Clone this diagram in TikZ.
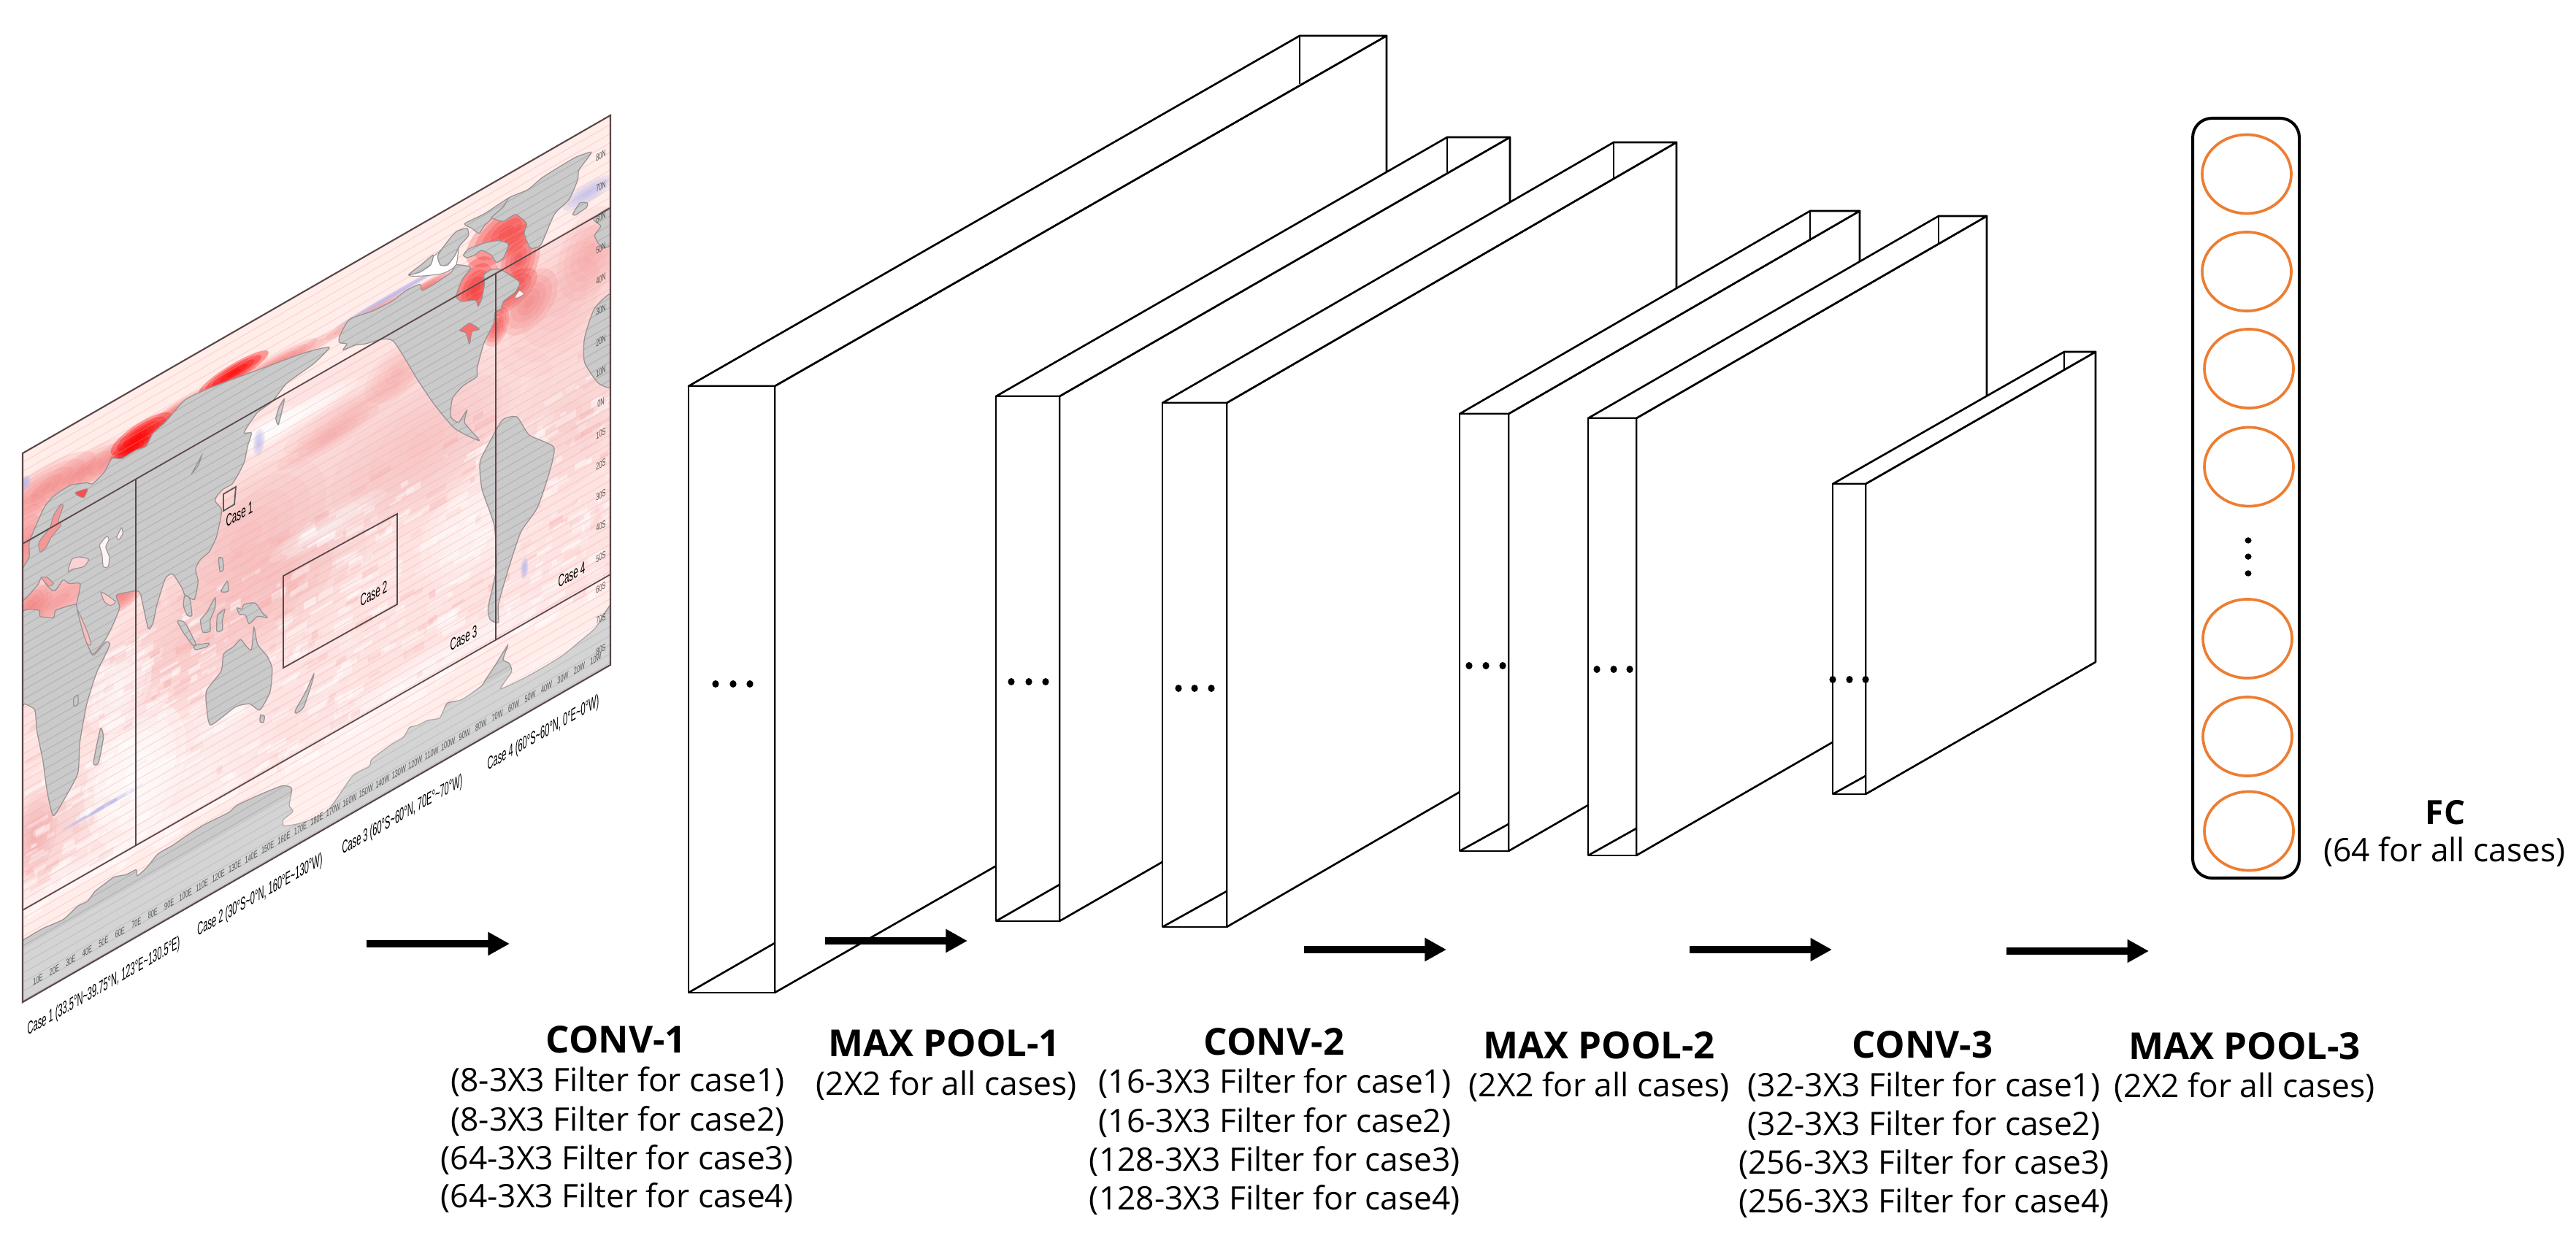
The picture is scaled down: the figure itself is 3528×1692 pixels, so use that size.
\documentclass[tikz,border=0pt]{standalone}
\usepackage{fontspec}
\setmainfont{Open Sans}
\newfontfamily\mapfont{Liberation Sans}
\usetikzlibrary{arrows.meta}
\definecolor{landc}{HTML}{CACACA}
\definecolor{stripec}{HTML}{B0B0B0}
\definecolor{coastc}{HTML}{9A9092}
\definecolor{framec}{HTML}{5A4649}
\definecolor{orangec}{HTML}{ED7D31}
\definecolor{oceanc}{HTML}{FDE3E1}
\definecolor{palec}{HTML}{FFEDEA}
\definecolor{pinkc}{HTML}{F7A3A3}
\definecolor{redc}{HTML}{F53030}
\definecolor{midc}{HTML}{F27474}
\definecolor{bluec}{HTML}{BDBDEF}
\tikzset{
 z1/.style={shift={(0,140)},x=0.005612cm,y=-0.008292cm},
 z4/.style={shift={(20,550)},x=0.003333cm,y=-0.003333cm},
 z8/.style={shift={(20,1100)},x=0.003333cm,y=-0.003333cm},
 z10/.style={shift={(460,150)},x=0.003333cm,y=-0.003333cm},
 stripe/.style={stripec,line width=.25pt},
 coast/.style={coastc,line width=.35pt},
 casel/.style={framec,line width=.5pt},
 boxl/.style={black,line width=.75pt,line join=round},
 flow/.style={line width=2.9pt,-{Triangle[length=8.4pt,width=8.6pt]}},
 head/.style={anchor=base,inner sep=0,font=\bfseries\fontsize{14.5}{14.5}\selectfont},
 sub/.style={anchor=base,inner sep=0,font=\fontsize{12.6}{12.6}\selectfont},
 neuron/.style={orangec,line width=1.05pt},
 tick/.style={inner sep=0,text=black!68,font=\mapfont\fontsize{3.8}{3.8}\selectfont},
 caselab/.style={inner sep=0,text=black,font=\mapfont\fontsize{6.6}{6.6}\selectfont},
 caption/.style={inner sep=0,text=black,font=\mapfont\fontsize{7}{7}\selectfont},
}
\newcommand\stripes{\foreach \k in {0,...,60}{\draw[stripe] (31,621+\k*12.5) -- (836,158+\k*12.5);}}
\newcommand\landp[2]{%
 \begin{scope}[#1]
  \path[clip] plot[smooth cycle,tension=.35] coordinates {#2};
  \begin{scope}[reset cm,x=0.01cm,y=-0.01cm]
   \fill[landc] (0,0) rectangle (900,1500); \stripes
  \end{scope}
 \end{scope}
 \begin{scope}[#1]\draw[coast] plot[smooth cycle,tension=.35] coordinates {#2};\end{scope}}
\newcommand\seap[3]{\begin{scope}[#1]\fill[#2,draw=coastc,line width=.3pt] plot[smooth cycle,tension=.35] coordinates {#3};\end{scope}}
\newcommand\blob[6]{%
 \pgfmathsetmacro\bX{#1/1.782-31}\pgfmathsetmacro\bY{#2/1.206-481+.575*\bX}%
 \foreach \s in {1,.8,.6,.4,.2}{\fill[#5,opacity=#6] (\bX,\bY) ellipse [x radius=\s*#3,y radius=\s*#4];}}
\newcommand\shtext[7]{\begin{scope}[cm={1,.575,0,1,(#2,#3)}]\node[transform shape,#6,#7] (#1) at (0,0) {\scalebox{#5}[1]{#4}};\end{scope}}
\newcommand\cuboid[8]{%
 \draw[boxl,fill=white] (#3,#4) -- (#7,#8) -- (#7,#8+#5-#4) -- (#3,#5) -- cycle;
 \draw[boxl,fill=white] (#2,#4) -- (#6,#8) -- (#7,#8) -- (#3,#4) -- cycle;
 \draw[boxl,fill=white] (#2,#4) rectangle (#3,#5);}
\newcommand\stack[4]{\foreach \p in {#1,#2,#3}{\fill[black] (\p,#4) ellipse [x radius=4.6,y radius=5];}}
\begin{document}
\begin{tikzpicture}[x=0.01cm,y=-0.01cm]
\useasboundingbox (0,0) rectangle (3528,1692);
% ---------- map ----------
\begin{scope}
\clip (31,621) -- (836,158) -- (836,911) -- (31,1373) -- cycle;
\fill[oceanc] (0,100) rectangle (900,1400);
\fill[palec] (31,621) -- (836,158) -- (836,285) -- (31,745) -- cycle;
\fill[palec] (31,1247) -- (836,787) -- (836,911) -- (31,1373) -- cycle;
\begin{scope}[cm={1,.575,0,1,(31,621)}]
 \blob{850}{640}{280}{110}{pinkc}{.05}
 \blob{1040}{560}{130}{90}{pinkc}{.06}
 \blob{490}{880}{180}{90}{pinkc}{.08}
 \blob{600}{720}{110}{90}{pinkc}{.09}
 \blob{700}{800}{110}{80}{pinkc}{.05}
 \blob{1370}{330}{90}{90}{pinkc}{.1}
 \blob{1390}{520}{85}{100}{pinkc}{.05}
 \blob{120}{1200}{65}{70}{pinkc}{.05}
 \blob{85}{1210}{30}{55}{midc}{.07}
 \blob{870}{505}{100}{24}{midc}{.06}
 \blob{970}{445}{45}{35}{midc}{.07}
 \blob{800}{555}{70}{18}{midc}{.08}
 \blob{100}{640}{75}{30}{midc}{.17}
 \blob{200}{610}{70}{25}{midc}{.13}
 \blob{290}{585}{70}{22}{midc}{.17}
 \blob{70}{730}{35}{65}{midc}{.2}
 \blob{345}{548}{42}{17}{red}{.36}
 \blob{320}{575}{30}{16}{red}{.3}
 \blob{450}{505}{60}{14}{redc}{.2}
 \blob{570}{447}{48}{13}{red}{.36}
 \blob{650}{440}{70}{12}{redc}{.12}
 \blob{720}{420}{70}{10}{midc}{.12}
 \blob{900}{350}{60}{10}{midc}{.2}
 \blob{1040}{305}{35}{8}{midc}{.3}
 \blob{1160}{310}{32}{42}{redc}{.32}
 \blob{1235}{215}{55}{36}{redc}{.26}
 \blob{1265}{260}{30}{45}{redc}{.22}
 \blob{1240}{315}{40}{25}{redc}{.25}
 \blob{1290}{330}{40}{40}{midc}{.18}
 \blob{1210}{370}{18}{26}{redc}{.2}
 \blob{1440}{250}{45}{60}{midc}{.08}
 \blob{300}{812}{30}{22}{midc}{.28}
 \blob{140}{825}{85}{35}{midc}{.15}
 \blob{75}{830}{30}{30}{midc}{.18}
 \blob{290}{970}{45}{55}{white}{.25}
 \blob{330}{1110}{70}{90}{white}{.32}
 \blob{730}{515}{80}{16}{white}{.3}
 \blob{650}{545}{50}{22}{white}{.32}
 \blob{560}{1010}{70}{30}{white}{.14}
 \blob{1150}{700}{70}{70}{white}{.18}
 \blob{800}{700}{80}{20}{white}{.16}
 \blob{860}{1040}{130}{40}{white}{.14}
 \blob{480}{1110}{110}{50}{white}{.12}
 \blob{280}{1240}{220}{20}{white}{.2}
 \blob{870}{1160}{100}{14}{white}{.28}
 \blob{1100}{910}{160}{25}{white}{.2}
 \blob{632}{562}{8}{18}{bluec}{.25}
 \blob{250}{1165}{55}{3}{bluec}{.5}
 \blob{1280}{770}{5}{14}{bluec}{.35}
 \blob{960}{318}{80}{4}{bluec}{.4}
 \blob{1435}{150}{35}{14}{bluec}{.25}
 \blob{60}{630}{8}{10}{bluec}{.4}
 \pgfmathsetseed{4242}
 \foreach \i in {1,...,520}{
  \pgfmathsetmacro\mx{rnd*800}
  \pgfmathsetmacro\my{330+rnd*310}
  \pgfmathsetmacro\mw{5+rnd*26}
  \pgfmathsetmacro\mh{3+rnd*9}
  \pgfmathsetmacro\mo{.2+rnd*.35}
  \fill[white,opacity=\mo] (\mx,\my) rectangle ++(\mw,\mh);}
 \foreach \i in {1,...,150}{
  \pgfmathsetmacro\mx{rnd*800}
  \pgfmathsetmacro\my{300+rnd*330}
  \pgfmathsetmacro\mw{6+rnd*24}
  \pgfmathsetmacro\mh{3+rnd*8}
  \pgfmathsetmacro\mo{.05+rnd*.12}
  \fill[midc,opacity=\mo] (\mx,\my) rectangle ++(\mw,\mh);}
\end{scope}
\foreach \k in {0,...,60}{\draw[pinkc,opacity=.4,line width=.25pt] (31,621+\k*12.5) -- (836,158+\k*12.5);}
\seap{z10}{white}{(300,680)(420,590)(480,530)(505,540)(495,640)(440,675)(360,685)}
\landp{z4}{(26,705)(60,640)(62,575)(120,440)(160,390)(230,345)(300,335)(320,340)(370,290)(400,235)(440,235)(500,200)(540,185)(570,130)(620,85)(700,-5)(790,-50)(880,-85)(984,-123)(1186,-198)(1295,-223)(1236,-160)(1186,-123)(1118,-73)(1060,0)(1000,45)(960,100)(945,130)(975,130)(960,180)(945,250)(920,300)(895,340)(860,360)(835,385)(825,410)(850,440)(850,470)(830,560)(800,620)(765,650)(745,690)(755,740)(740,815)(700,795)(690,770)(650,710)(620,730)(585,840)(570,910)(550,935)(520,800)(505,780)(440,790)(418,800)(432,850)(400,930)(370,985)(322,1040)(290,980)(265,880)(250,850)(258,820)(270,750)(225,750)(200,735)(165,780)(135,760)(110,725)(95,755)(26,825)}
\landp{z4}{(26,880)(100,860)(105,885)(160,890)(170,860)(250,835)(258,860)(285,960)(322,1045)(375,990)(392,1000)(370,1050)(340,1110)(319,1171)(294,1258)(268,1407)(260,1531)(201,1643)(159,1705)(134,1606)(117,1482)(92,1357)(83,1270)(41,1245)(26,1252)}
\landp{z1}{(228,1092)(245,1035)(252,1050)(240,1092)}
\landp{z4}{(670,905)(700,910)(740,985)(745,1000)(735,1005)(700,960)}
\landp{z4}{(700,800)(720,810)(730,880)(710,880)(695,840)}
\landp{z4}{(740,1005)(800,995)(790,1010)(745,1022)}
\landp{z4}{(765,900)(790,870)(825,808)(825,850)(805,900)(805,945)(775,950)}
\landp{z4}{(835,880)(865,855)(855,900)(855,940)(832,945)}
\landp{z4}{(850,780)(875,740)(880,780)(860,785)}
\landp{z4}{(840,645)(855,645)(860,690)(845,700)}
\landp{z4}{(915,850)(935,855)(945,835)(990,830)(1020,870)(1040,890)(1000,885)(965,915)(950,880)(925,875)}
\landp{z4}{(790,1190)(850,1110)(860,1040)(900,1010)(930,980)(955,1010)(975,1020)(985,930)(1000,1000)(1040,1050)(1060,1100)(1051,1196)(1009,1270)(967,1245)(908,1258)(807,1332)(790,1258)}
\landp{z1}{(720,1005)(745,975)(765,945)(760,960)(740,1000)(722,1010)}
\landp{z1}{(635,1013)(645,1015)(642,1025)(634,1024)}
\landp{z4}{(1075,70)(1090,20)(1110,-10)(1100,40)(1085,95)}
\landp{z4}{(730,295)(750,260)(770,222)(755,265)}
\landp{z1}{(180,985)(190,980)(190,995)(180,998)}
\landp{z10}{(15,935)(55,865)(150,830)(230,790)(290,745)(345,720)(355,745)(395,725)(440,695)(475,670)(495,640)(545,645)(555,655)(520,700)(495,770)(520,790)(575,785)(585,810)(600,780)(612,715)(610,680)(640,660)(680,660)(755,710)(740,750)(690,790)(680,820)(655,835)(650,880)(610,960)(581,1065)(580,1100)(522,1139)(480,1189)(472,1264)(505,1288)(539,1239)(530,1290)(590,1363)(489,1313)(405,1214)(337,1114)(278,1015)(236,953)(194,945)(120,965)(80,970)(30,990)(45,965)(15,960)}
\landp{z10}{(525,600)(545,575)(610,550)(670,540)(710,555)(690,610)(660,630)(640,600)(600,580)(570,600)(540,610)}
\landp{z10}{(300,680)(350,640)(400,600)(390,640)(345,670)}
\landp{z10}{(420,600)(470,530)(500,500)(540,490)(545,520)(510,560)(490,600)(460,640)(430,640)}
\landp{z10}{(530,470)(610,430)(715,362)(680,410)(610,480)(590,510)(560,490)}
\landp{z10}{(640,445)(690,400)(715,362)(790,330)(850,280)(930,230)(990,195)(1050,175)(1040,195)(1000,250)(995,290)(960,370)(900,430)(850,545)(835,565)(800,570)(775,510)(785,470)(740,432)(690,460)(650,450)}
\landp{z10}{(975,430)(1005,385)(1035,385)(1030,405)(985,435)}
\landp{z10}{(1060,450)(1135,405)(1135,550)(1095,570)(1065,520)(1090,480)}
\landp{z1}{(1500,318)(1450,340)(1425,390)(1425,430)(1460,465)(1500,465)}
\landp{z1}{(1170,595)(1195,560)(1225,525)(1260,520)(1290,550)(1350,570)(1340,610)(1310,670)(1270,710)(1240,770)(1215,830)(1215,860)(1195,855)(1190,835)(1210,770)(1205,700)(1175,640)}
\landp{z8}{(20,590)(60,550)(120,515)(200,480)(260,425)(300,405)(330,365)(375,330)(410,305)(460,295)(500,275)(505,300)(545,265)(590,210)(650,175)(700,140)(780,90)(880,40)(915,10)(1000,-30)(1100,-70)(1140,-60)(1130,10)(1145,35)(1105,70)(1110,95)(1190,80)(1290,30)(1390,-110)(1460,-150)(1470,-180)(1550,-240)(1600,-270)(1625,-310)(1660,-320)(1700,-340)(1750,-350)(1780,-410)(1840,-425)(1920,-480)(1940,-510)(1980,-570)(2030,-650)(2010,-590)(2035,-575)(2045,-540)(2000,-470)(2090,-510)(2180,-560)(2260,-610)(2320,-660)(2390,-720)(2470,-830)(2470,-560)(20,840)}
\fill[white,opacity=.2] (31,1373) -- (836,911) -- (836,840) -- (31,1300) -- cycle;
\seap{z4}{midc!75!white}{(145,520)(160,470)(190,425)(200,430)(180,490)(190,510)(150,560)(130,600)(105,620)(100,580)}
\seap{z4}{red!70!white}{(250,375)(300,360)(285,395)(265,390)}
\seap{z4}{pinkc!50!white}{(220,700)(235,650)(265,640)(305,650)(285,680)(240,690)}
\seap{z4}{pinkc}{(110,725)(135,725)(160,750)(140,760)}
\seap{z4}{white!88!pinkc}{(350,590)(380,555)(388,570)(375,600)(390,640)(385,680)(365,680)(360,630)}
\seap{z4}{palec}{(420,560)(440,520)(445,545)(430,568)}
\seap{z4}{pinkc!55!white}{(355,785)(385,800)(415,825)(395,840)(370,825)}
\seap{z4}{pinkc!70!white}{(258,860)(270,880)(300,950)(315,1000)(300,1000)(285,960)}
\seap{z10}{redc!70!white}{(510,910)(550,880)(590,905)(560,915)(550,965)(535,920)}
\seap{z10}{palec}{(735,775)(755,745)(775,760)(750,775)}
\draw[casel] (31,745) -- (836,285);
\draw[casel] (31,1247) -- (836,787);
\draw[casel] (186,656) -- (186,1158);
\draw[casel] (679,375) -- (679,876);
\draw[casel] (388,789) -- (544,704) -- (544,828) -- (388,915) -- cycle;
\draw[black!65,line width=.5pt] (306,677) -- (323,667) -- (321,691) -- (306,700) -- cycle;
\end{scope}
\draw[framec,line width=.6pt] (31,621) -- (836,158) -- (836,911) -- (31,1373) -- cycle;
\shtext{c1}{328}{704}{Case 1}{.5}{caselab}{}
\shtext{c2}{512}{813}{Case 2}{.5}{caselab}{}
\shtext{c3}{635}{874}{Case 3}{.5}{caselab}{}
\shtext{c4}{783}{787}{Case 4}{.5}{caselab}{}
\shtext{cap1}{142}{1352}{Case 1 (33.5°N\textasciitilde39.75°N, 123°E\textasciitilde130.5°E)}{.45}{caption}{}
\shtext{cap2}{356}{1227}{Case 2 (30°S\textasciitilde0°N, 160°E\textasciitilde130°W)}{.45}{caption}{}
\shtext{cap3}{551}{1117}{Case 3 (60°S\textasciitilde60°N, 70E°\textasciitilde70°W)}{.45}{caption}{}
\shtext{cap4}{744}{1005}{Case 4 (60°S\textasciitilde60°N, 0°E\textasciitilde0°W)}{.45}{caption}{}
\foreach \lab [count=\n from 0] in {10E,20E,30E,40E,50E,60E,70E,80E,90E,100E,110E,120E,130E,140E,150E,160E,170E,180E,170W,160W,150W,140W,130W,120W,110W,100W,90W,80W,70W,60W,50W,40W,30W,20W,10W}{
 \pgfmathsetmacro\tx{52+\n*22.47}\pgfmathsetmacro\ty{1342-\n*22.47*.575}
 \shtext{bt\n}{\tx}{\ty}{\lab}{.55}{tick}{}}
\foreach \lab [count=\n from 0] in {80N,70N,60N,50N,40N,30N,20N,10N,0N,10S,20S,30S,40S,50S,60S,70S,80S}{
 \pgfmathsetmacro\ty{213+\n*42.3}
 \shtext{rt\n}{823}{\ty}{\lab}{.55}{tick}{}}
% ---------- blocks ----------
\cuboid{a}{943}{1061}{529}{1360}{1780}{1899}{49}
\draw[boxl] (1780,49) -- (1780,115); \draw[boxl] (943,1360) -- (1061,1292);
\stack{980}{1004}{1027}{937}
\cuboid{b}{1364}{1451}{543}{1262}{1982}{2068}{188}
\draw[boxl] (1982,188) -- (1982,237); \draw[boxl] (1364,1262) -- (1451,1212);
\stack{1385}{1409}{1432}{934}
\cuboid{c}{1592}{1680}{552}{1270}{2210}{2296}{195}
\draw[boxl] (2210,195) -- (2210,246); \draw[boxl] (1592,1270) -- (1680,1221);
\stack{1614}{1636}{1659}{943}
\cuboid{d}{1999}{2066}{567}{1166}{2479}{2547}{289}
\draw[boxl] (2479,289) -- (2479,330); \draw[boxl] (1999,1166) -- (2066,1129);
\stack{2012}{2035}{2058}{912}
\cuboid{e}{2175}{2241}{573}{1172}{2655}{2721}{296}
\draw[boxl] (2655,296) -- (2655,334); \draw[boxl] (2175,1172) -- (2241,1135);
\stack{2187}{2210}{2232}{917}
\cuboid{f}{2510}{2555}{663}{1088}{2827}{2870}{482}
\draw[boxl] (2827,482) -- (2827,508); \draw[boxl] (2510,1088) -- (2555,1063);
\stack{2510}{2533}{2555}{931}
% ---------- arrows ----------
\coordinate (a1s) at (502,1293); \coordinate (a1e) at (698,1293);
\coordinate (a2s) at (1130,1289); \coordinate (a2e) at (1325,1289);
\coordinate (a3s) at (1786,1301); \coordinate (a3e) at (1981,1301);
\coordinate (a4s) at (2314,1301); \coordinate (a4e) at (2509,1301);
\coordinate (a5s) at (2748,1303); \coordinate (a5e) at (2943,1303);
\foreach \i in {1,...,5}{\draw[flow] (a\i s) -- (a\i e);}
% ---------- FC ----------
\draw[black,line width=1.15pt,rounded corners=7.5pt] (3003,162) rectangle (3149,1203);
\foreach \cx/\cy [count=\n] in {3077/238.5,3077/372,3080/505,3080/639.5,3078/875,3078/1009,3080/1138.5}{
 \draw[neuron] (\cx,\cy) ellipse [x radius=61,y radius=54];}
\foreach \cy in {740.4,762.6,785.5}{\fill[black] (3079,\cy) ellipse [x radius=4.5,y radius=4.2];}
% ---------- text ----------
\node[head] (h1) at (844,1442) {CONV-1};
\node[head] (h2) at (1293,1447) {MAX POOL-1};
\node[head] (h3) at (1745,1445) {CONV-2};
\node[head] (h4) at (2190,1450) {MAX POOL-2};
\node[head] (h5) at (2633,1449) {CONV-3};
\node[head] (h6) at (3074,1451) {MAX POOL-3};
\node[sub] (s11) at (846,1495) {(8-3X3 Filter for case1)};
\node[sub] (s12) at (846,1549) {(8-3X3 Filter for case2)};
\node[sub] (s13) at (845,1602) {(64-3X3 Filter for case3)};
\node[sub] (s14) at (845,1654) {(64-3X3 Filter for case4)};
\node[sub] (s2) at (1296,1500) {(2X2 for all cases)};
\node[sub] (s31) at (1746,1497) {(16-3X3 Filter for case1)};
\node[sub] (s32) at (1746,1551) {(16-3X3 Filter for case2)};
\node[sub] (s33) at (1746,1604) {(128-3X3 Filter for case3)};
\node[sub] (s34) at (1746,1657) {(128-3X3 Filter for case4)};
\node[sub] (s4) at (2190,1502) {(2X2 for all cases)};
\node[sub] (s51) at (2635,1502) {(32-3X3 Filter for case1)};
\node[sub] (s52) at (2635,1555) {(32-3X3 Filter for case2)};
\node[sub] (s53) at (2635,1608) {(256-3X3 Filter for case3)};
\node[sub] (s54) at (2635,1661) {(256-3X3 Filter for case4)};
\node[sub] (s6) at (3074,1503) {(2X2 for all cases)};
\node[head,font=\bfseries\fontsize{13}{13}\selectfont] (fc) at (3349,1129) {FC};
\node[sub] (fcs) at (3348,1180) {(64 for all cases)};
\end{tikzpicture}
\end{document}
